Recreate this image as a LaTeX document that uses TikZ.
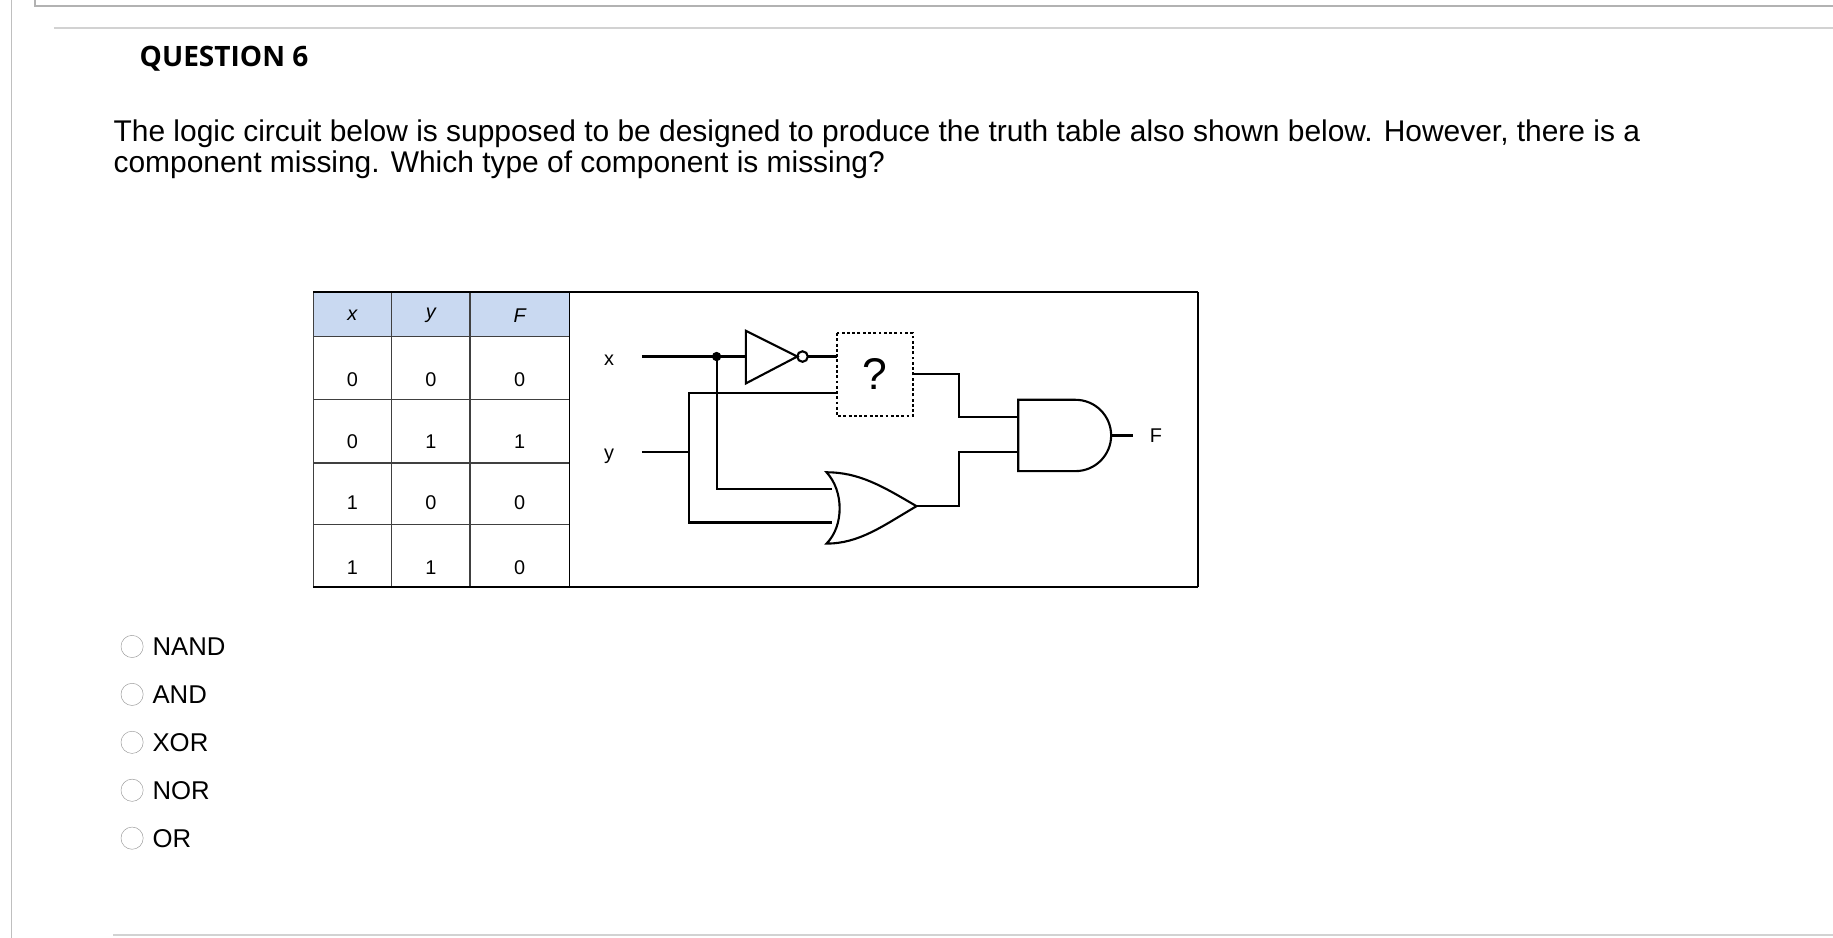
\documentclass[tikz,border=0pt]{standalone}
\usepackage{fontspec}
\setmainfont{Liberation Sans}
\newfontfamily\titlefont{Open Sans}
\begin{document}
\begin{tikzpicture}[x=1pt,y=-1pt,
  wire/.style={line width=1.8pt},
  tgrid/.style={draw=black!75,line width=1pt},
  radio/.style={circle,draw=gray!80,minimum size=19pt,inner sep=0pt},
  opt/.style={anchor=west,font=\fontsize{22}{26}\selectfont},
  cell/.style={font=\fontsize{17}{20}\selectfont}]
\useasboundingbox (0,0) rectangle (1568,802);
% page frame
\draw[gray!50,line width=1pt] (10,0) -- (10,802);
\draw[gray!60,line width=1.2pt] (30,0) -- (30,5) -- (1568,5);
\draw[gray!35,line width=1.5pt] (46,24) -- (1568,24);
\draw[gray!35,line width=1.5pt] (97,800) -- (1568,800);
\node[anchor=west,font=\titlefont\bfseries\fontsize{24}{28}\selectfont] (title) at (116,50) {QUESTION 6};
\node[anchor=north west,align=left,inner sep=0pt,font=\fontsize{25.6}{27}\selectfont] (q) at (97,102)
 {The logic circuit below is supposed to be designed to produce the truth table also shown below. However, there is a\\component missing. Which type of component is missing?};
% table
\definecolor{hdr}{HTML}{C9D9F1}
\fill[hdr] (268,250) rectangle (487,288);
\foreach \yy in {288,342,396,449} \draw[tgrid] (268,\yy) -- (487,\yy);
\foreach \xx in {268,335,402} \draw[tgrid] (\xx,250) -- (\xx,502);
\draw[line width=1.5pt] (268,250) -- (1025,250);
\draw[line width=1.2pt] (487,250) -- (487,502);
\draw[line width=1.5pt] (1025,250) -- (1025,502);
\draw[line width=2pt] (268,502) -- (1025,502);
\node[cell] (hx) at (301.5,270) {\itshape x};
\node[cell] (hy) at (368.5,270) {\itshape y};
\node[cell] (hf) at (444.5,270) {\itshape F};
\foreach \a/\b/\c/\yy in {0/0/0/325,0/1/1/378,1/0/0/430,1/1/0/486}{
  \node[cell] at (301.5,\yy) {\a};
  \node[cell] at (368.5,\yy) {\b};
  \node[cell] at (444.5,\yy) {\c};
}
% circuit
\node[cell] (xl) at (521,308) {x};
\node[cell] (yl) at (521,390) {y};
\coordinate (xin) at (549,305);
\coordinate (dot) at (613,305);
\coordinate (yin) at (549,387);
\draw[wire] (xin) -- (638,305);
\fill (dot) circle (4);
\draw[wire] (638,283) -- (682,305) -- (638,328) -- cycle;
\draw[wire] (686.5,305) circle (4.5);
\draw[wire] (691,305) -- (716,305);
\draw[line width=1.6pt,dash pattern=on 2.5pt off 2pt] (716,285) rectangle (781,356);
\node[font=\fontsize{38}{42}\selectfont] (qm) at (748.5,320) {?};
\draw[wire] (yin) -- (589,387);
\draw[wire] (716,336) -- (589,336) -- (589,447) -- (712,447);
\draw[wire] (dot) -- (613,418) -- (712,418);
% OR gate
\draw[wire] (707,404) .. controls (722,420) and (722,450) .. (707,465)
  .. controls (735,465) and (755,450) .. (784,433)
  .. controls (755,416) and (735,404) .. cycle;
% AND gate
\draw[wire] (871,342) -- (920,342) arc (-90:90:30.5) -- (871,403) -- cycle;
\draw[wire] (781,320) -- (820,320) -- (820,357) -- (871,357);
\draw[wire] (784,433) -- (820,433) -- (820,387) -- (871,387);
\draw[wire] (950.5,372.5) -- (969,372.5);
\node[cell,anchor=west] (fl) at (980,372.5) {F};
% options
\foreach \t/\yy in {NAND/553,AND/594,XOR/635,NOR/676,OR/717}{
  \node[radio] at (113,\yy) {};
  \node[opt] at (127,\yy) {\t};
}
\end{tikzpicture}
\end{document}
